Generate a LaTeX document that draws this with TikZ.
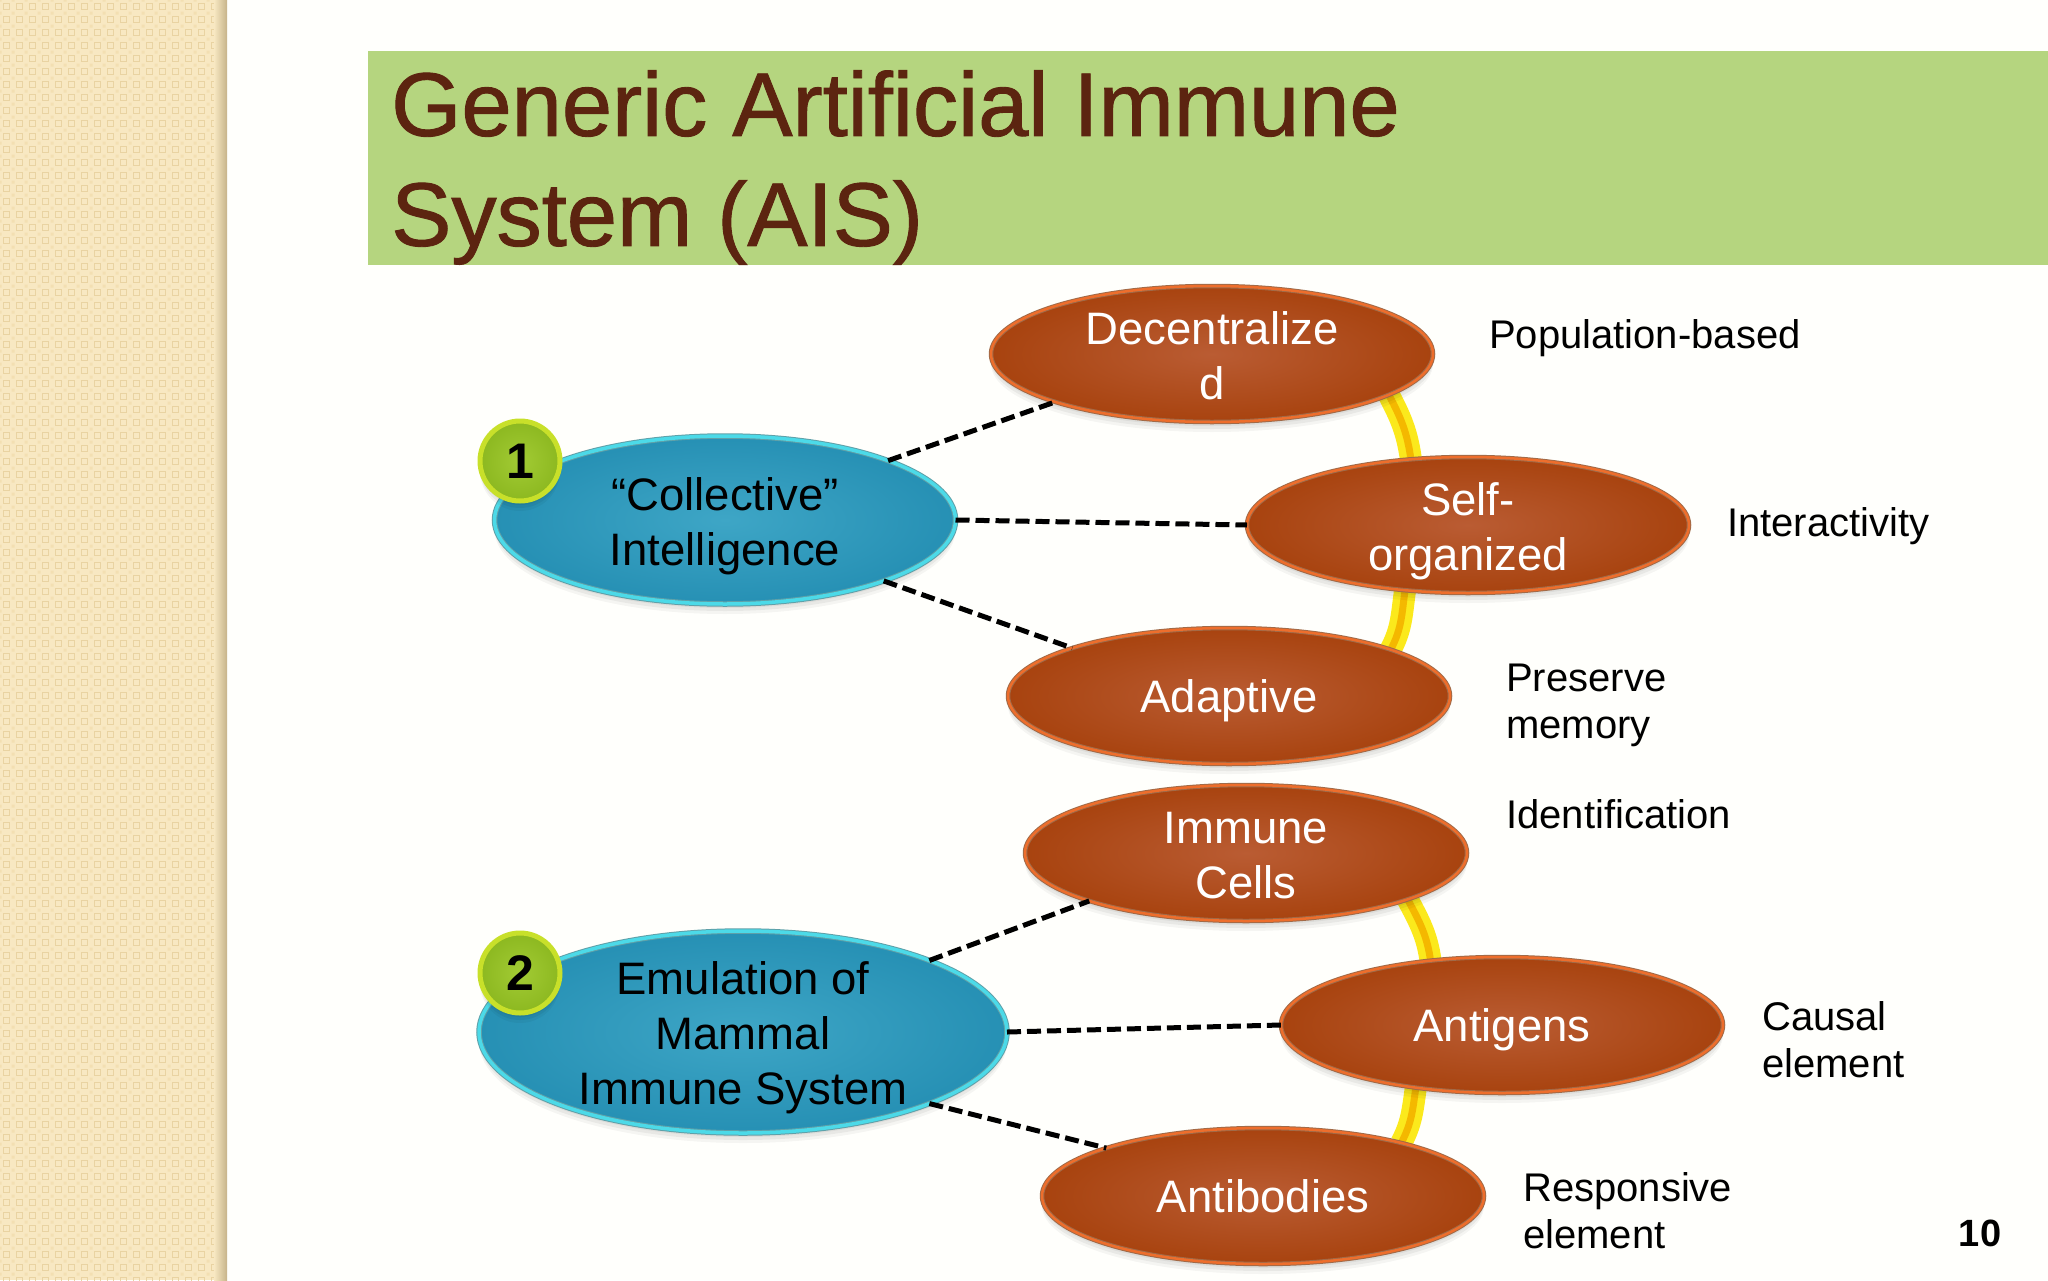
\documentclass[tikz,border=0pt]{standalone}
\usepackage{fontspec}
\setmainfont{Liberation Sans}
\newfontfamily\titlefont[FakeBold=1]{Liberation Sans}
\usetikzlibrary{shapes.geometric}
\definecolor{rust}{HTML}{A8430F}
\definecolor{rustin}{HTML}{BA5C33}
\definecolor{rustrim}{HTML}{EE6E2C}
\definecolor{rustedge}{HTML}{A06A48}
\definecolor{tealin}{HTML}{3EA6C6}
\definecolor{tealout}{HTML}{2690B4}
\definecolor{tealrim}{HTML}{4CDAE8}
\definecolor{tealedge}{HTML}{5FA0A8}
\definecolor{barg}{HTML}{B5D57F}
\definecolor{titlec}{HTML}{5C2410}
\definecolor{sand}{HTML}{F8E8C2}
\definecolor{sandmid}{HTML}{F3DFB2}
\definecolor{sanddark}{HTML}{E9D3A2}
\definecolor{goldc}{HTML}{F4B800}
\definecolor{yelc}{HTML}{FBE91C}
\definecolor{badgein}{HTML}{A2CB34}
\definecolor{badgeout}{HTML}{8CB820}
\definecolor{badgerim}{HTML}{C8E02A}
\pgfdeclarelayer{back}
\pgfsetlayers{back,main}
\tikzset{
  softshadow/.style={
    preaction={fill=black,fill opacity=.05,transform canvas={yshift=-4pt}},
    preaction={fill=black,fill opacity=.05,transform canvas={yshift=-7pt}},
    preaction={fill=black,fill opacity=.04,transform canvas={yshift=-10pt}}},
  ovalbase/.style={ellipse,inner xsep=-80pt,inner ysep=-80pt,outer sep=0pt,softshadow,line width=1pt,align=center,
    font=\fontsize{45.5}{55}\selectfont,
    execute at begin node={\rule{0pt}{44pt}},execute at end node={\rule[-12pt]{0pt}{1pt}}},
  twolines/.style={execute at begin node={\rule{0pt}{103pt}}},
  threelines/.style={execute at begin node={\rule{0pt}{157pt}}},
  rustoval/.style={ovalbase,minimum width=442pt,minimum height=136pt,
    inner color=rustin,outer color=rust,draw=rustedge,double=rustrim,double distance=2.5pt,text=white},
  tealoval/.style={ovalbase,
    inner color=tealin,outer color=tealout,draw=tealedge,double=tealrim,double distance=3.5pt,text=black},
  badge/.style={circle,minimum size=80pt,inner sep=0pt,outer sep=0pt,softshadow,
    inner color=badgein,outer color=badgeout,draw=badgerim,line width=5pt,font=\bfseries\fontsize{50}{50}\selectfont},
  sidelabel/.style={anchor=west,align=left,inner sep=0pt,text=black,font=\fontsize{40}{47}\selectfont},
  dashlink/.style={line width=5pt,black,dash pattern=on 14pt off 6pt},
  goldband/.style={line width=22pt,draw=yelc},
  goldcore/.style={line width=7pt,draw=goldc},
  titletext/.style={anchor=west,align=left,inner sep=0pt,text=titlec,font=\titlefont\fontsize{90.3}{110}\selectfont},
  pagenum/.style={anchor=center,inner sep=0pt,font=\bfseries\fontsize{38}{38}\selectfont},
}
\begin{document}
\begin{tikzpicture}[x=1pt,y=-1pt]
\useasboundingbox (0,0) rectangle (2048,1280);
\begin{pgfonlayer}{back}
\fill[white!99!yellow] (0,0) rectangle (2048,1280);
% textured side panel
\fill[sand] (0,0) rectangle (222,1280);
\fill[sandmid] \foreach \i in {0,...,16}{\foreach \j in {0,...,98}{
  ({\i*13-1.5},{\j*13-1.5}) rectangle ++(3,3)}};
\draw[sanddark,line width=1.8pt] \foreach \i in {0,...,16}{\foreach \j in {0,...,98}{
  ({\i*13+3.5},{\j*13+3.5}) rectangle ++(6,6)}};
\shade[left color=sand,right color=sanddark!85!black] (214,0) rectangle (227,1280);
\end{pgfonlayer}
% title bar
\fill[barg] (368,51) rectangle (2048,265);
\node[titletext] (title) at (391,167.5) {Generic Artificial Immune\\System (AIS)};
% ovals
\node[rustoval,twolines] (dec) at (1212,354) {Decentralize\\d};
\node[rustoval,twolines] (self) at (1468,525) {Self-\\organized};
\node[rustoval] (ada) at (1229,696) {Adaptive};
\node[rustoval,twolines] (imm) at (1246,853) {Immune\\Cells};
\node[rustoval] (ant) at (1502,1025) {Antigens};
\node[rustoval] (abd) at (1263,1196) {Antibodies};
\node[tealoval,twolines,minimum width=461pt,minimum height=168pt] (col) at (725,520) {“Collective”\\Intelligence};
\node[tealoval,threelines,minimum width=528pt,minimum height=202pt] (emu) at (743,1032) {Emulation of\\Mammal\\Immune System};
% yellow arcs behind the ovals
\begin{pgfonlayer}{back}
\foreach \s in {goldband,goldcore}{
  \draw[\s] (dec.-13) to[out=-62,in=98] (self.131);
  \draw[\s] (self.226) to[out=-98,in=62] (ada.16);
  \draw[\s] (imm.-16) to[out=-62,in=98] (ant.138);
  \draw[\s] (ant.216) to[out=-98,in=62] (abd.21);
}
\end{pgfonlayer}
% dashed connectors
\draw[dashlink] (col.20) -- (dec.197);
\draw[dashlink] (col.0) -- (self.180);
\draw[dashlink] (col.-21) -- (ada.163.5);
\draw[dashlink] (emu.21) -- (imm.197);
\draw[dashlink] (emu.0) -- (ant.180);
\draw[dashlink] (emu.-21) -- (abd.163.5);
% badges
\node[badge] (b1) at (520,461) {1};
\node[badge] (b2) at (520,973) {2};
% side labels
\node[sidelabel] (l1) at (1489,338) {Population-based};
\node[sidelabel] (l2) at (1727,526) {Interactivity};
\node[sidelabel] (l3) at (1506,705) {Preserve\\memory};
\node[sidelabel] (l4) at (1506,814) {Identification};
\node[sidelabel] (l5) at (1762,1040) {Causal\\element};
\node[sidelabel] (l6) at (1523,1211) {Responsive\\element};
\node[pagenum] (pg) at (1980,1233) {10};
\end{tikzpicture}
\end{document}
